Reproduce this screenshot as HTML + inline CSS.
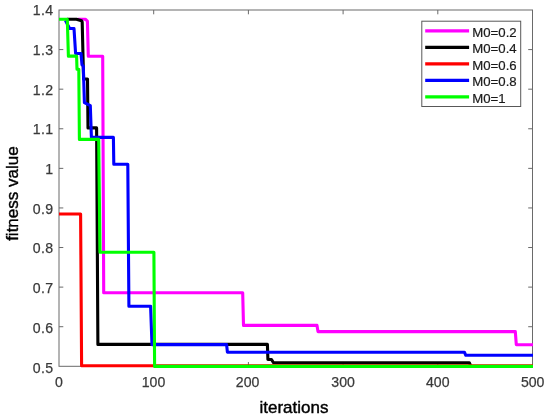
<!DOCTYPE html>
<html><head><meta charset="utf-8"><title>fitness</title>
<style>
html,body{margin:0;padding:0;background:#fff;}
body{width:550px;height:420px;overflow:hidden;}
svg{display:block;}
text{font-family:"Liberation Sans",Arial,sans-serif;}
</style></head><body>
<svg width="550" height="420" viewBox="0 0 550 420">
<rect width="550" height="420" fill="#fff"/>
<g fill="none" stroke="#6a6a6a" stroke-width="1">
<rect x="59.0" y="10.0" width="473.50" height="356.30"/>
<path d="M153.70,366.3 v-4.3 M153.70,10.0 v4.3"/>
<path d="M248.40,366.3 v-4.3 M248.40,10.0 v4.3"/>
<path d="M343.10,366.3 v-4.3 M343.10,10.0 v4.3"/>
<path d="M437.80,366.3 v-4.3 M437.80,10.0 v4.3"/>
<path d="M59.0,326.71 h4.3 M532.5,326.71 h-4.3"/>
<path d="M59.0,287.12 h4.3 M532.5,287.12 h-4.3"/>
<path d="M59.0,247.53 h4.3 M532.5,247.53 h-4.3"/>
<path d="M59.0,207.94 h4.3 M532.5,207.94 h-4.3"/>
<path d="M59.0,168.36 h4.3 M532.5,168.36 h-4.3"/>
<path d="M59.0,128.77 h4.3 M532.5,128.77 h-4.3"/>
<path d="M59.0,89.18 h4.3 M532.5,89.18 h-4.3"/>
<path d="M59.0,49.59 h4.3 M532.5,49.59 h-4.3"/>
</g>
<g fill="none" stroke-width="3.1" stroke-linejoin="round" stroke-linecap="butt">
<path d="M78,19.2 H85.3 L87.4,21.2 L88.3,56.2 H102.7 L103.7,292.7 H242.7 L243.5,325.4 H317 L318,331.6 H515.3 L516.3,344.7 H533" stroke="#ff00ff"/>
<path d="M67,19.2 H76.5 L81.5,20.8 L82.2,22.2 L83.2,64 L83.6,79 H87.5 L88,127.9 H96.6 L97.9,344.4 H267.4 L267.9,359.5 H271.5 L273.5,362.7 H469.3 L470.5,365.3" stroke="#000"/>
<path d="M59,214 H80.6 L81.6,365.8 H533" stroke="#ff0000"/>
<path d="M65.4,20.4 L69.6,28.5 H74 L75.6,53.5 H81 L82,64.8 L83.3,66.2 L84.4,102.6 L90.3,105.6 L91.4,137.4 H113.4 L113.8,164.3 H127.8 L128.9,306.2 H150.6 L152,344.6 H226.6 L227.4,352.2 H464.4 L465.8,355.3 H533" stroke="#0000ff"/>
<path d="M59,19.2 H67.3 L68.4,56.1 H76.6 L77,69.2 H78.8 L79.4,139.4 H98.7 L100,252.3 H153.9 L154.6,366.4 H533" stroke="#00ff00"/>
</g>
<g font-size="14.1" fill="#3a3a3a" stroke="#3a3a3a" stroke-width="0.25">
<text x="59.00" y="387" text-anchor="middle">0</text>
<text x="153.50" y="387" text-anchor="middle">100</text>
<text x="247.60" y="387" text-anchor="middle">200</text>
<text x="343.10" y="387" text-anchor="middle">300</text>
<text x="437.80" y="387" text-anchor="middle">400</text>
<text x="532.70" y="387" text-anchor="middle">500</text>
<text letter-spacing="0.4" x="53.6" y="372.55" text-anchor="end">0.5</text>
<text letter-spacing="0.4" x="53.6" y="332.86" text-anchor="end">0.6</text>
<text letter-spacing="0.4" x="53.6" y="293.17" text-anchor="end">0.7</text>
<text letter-spacing="0.4" x="53.6" y="253.48" text-anchor="end">0.8</text>
<text letter-spacing="0.4" x="53.6" y="213.79" text-anchor="end">0.9</text>
<text letter-spacing="0.4" x="53.6" y="174.11" text-anchor="end">1</text>
<text letter-spacing="0.4" x="53.6" y="134.42" text-anchor="end">1.1</text>
<text letter-spacing="0.4" x="53.6" y="94.73" text-anchor="end">1.2</text>
<text letter-spacing="0.4" x="53.6" y="55.04" text-anchor="end">1.3</text>
<text letter-spacing="0.4" x="53.6" y="15.35" text-anchor="end">1.4</text>
</g>
<rect x="421.8" y="21.2" width="98.9" height="85.3" fill="#fff" stroke="#585858" stroke-width="1"/>
<g font-size="13.2" fill="#1a1a1a" stroke="#1a1a1a" stroke-width="0.2">
<path d="M425.2,30.9 H469.1" stroke="#ff00ff" stroke-width="3.1" fill="none"/>
<text x="472.3" y="36.80">M0=0.2</text>
<path d="M425.2,47.4 H469.1" stroke="#000000" stroke-width="3.1" fill="none"/>
<text x="472.3" y="53.30">M0=0.4</text>
<path d="M425.2,63.9 H469.1" stroke="#ff0000" stroke-width="3.1" fill="none"/>
<text x="472.3" y="69.80">M0=0.6</text>
<path d="M425.2,80.4 H469.1" stroke="#0000ff" stroke-width="3.1" fill="none"/>
<text x="472.3" y="86.30">M0=0.8</text>
<path d="M425.2,96.9 H469.1" stroke="#00ff00" stroke-width="3.1" fill="none"/>
<text x="472.3" y="102.80">M0=1</text>
</g>
<g font-size="17" fill="#000" stroke="#000" stroke-width="0.4">
<text x="294" y="413.1" text-anchor="middle">iterations</text>
<text transform="translate(17.6,193.6) rotate(-90)" text-anchor="middle">fitness value</text>
</g>
</svg>
</body></html>
